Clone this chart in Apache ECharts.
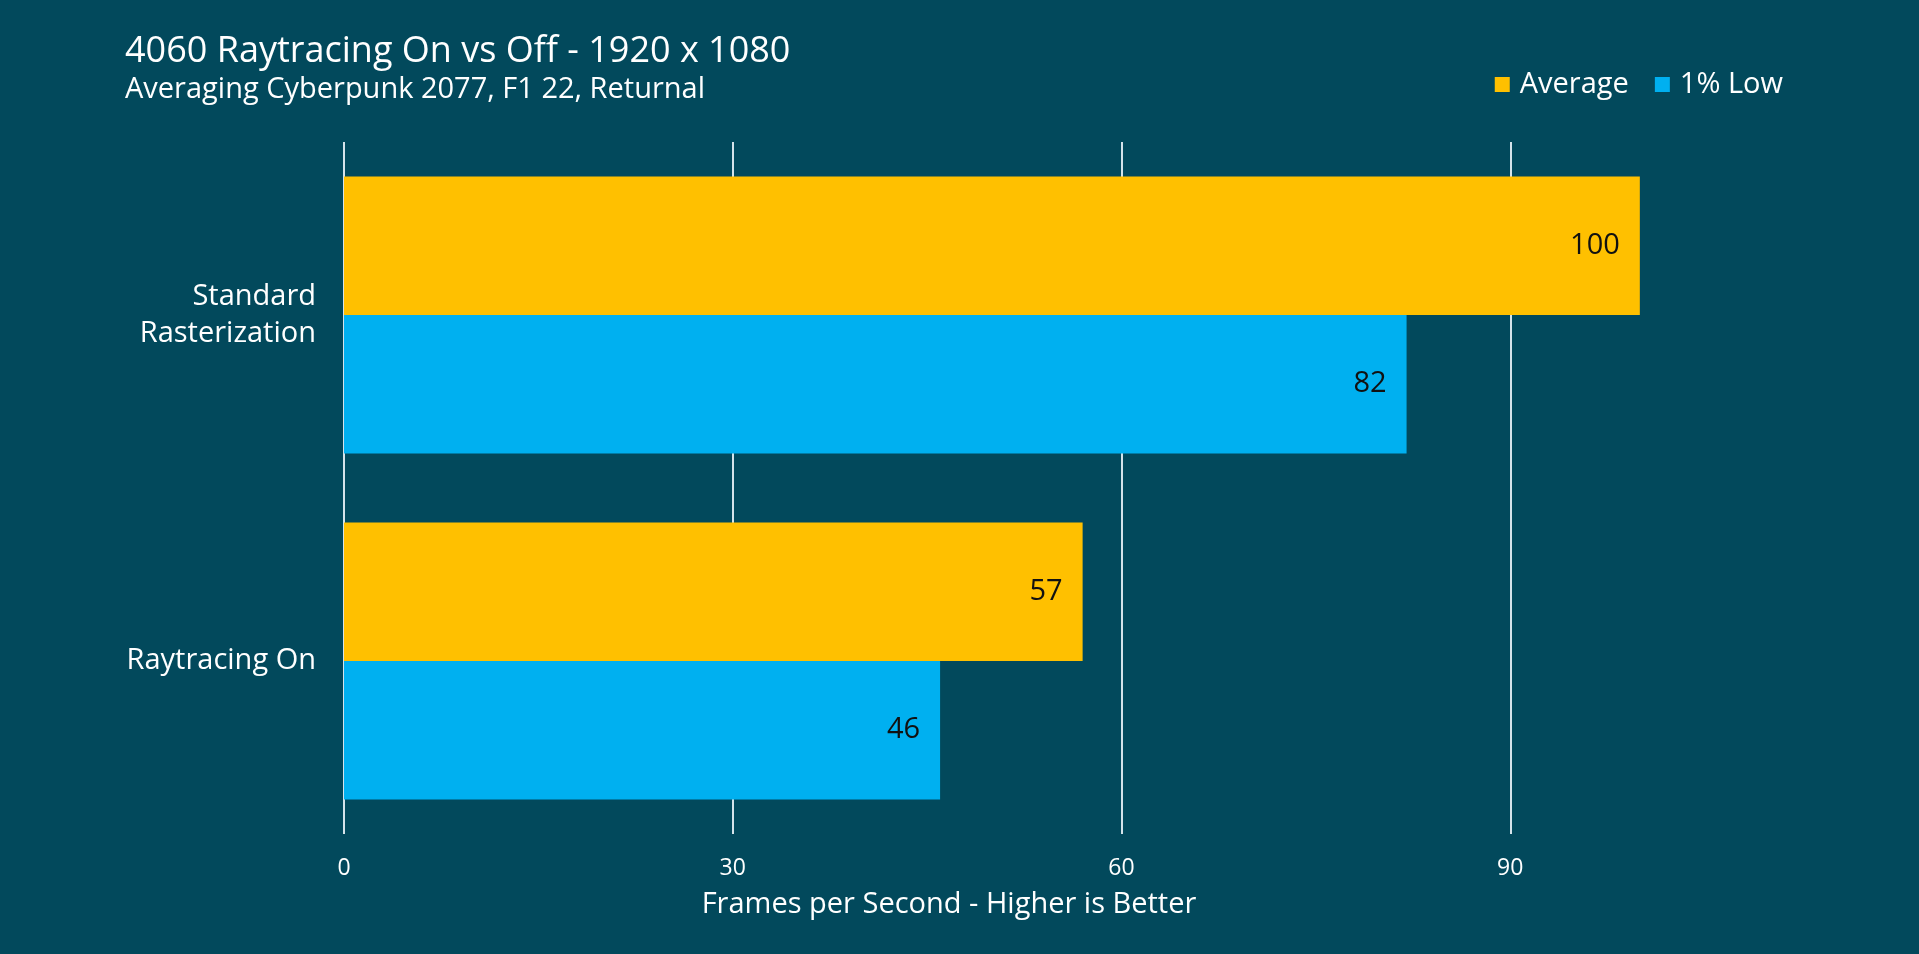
<!DOCTYPE html>
<html>
<head>
<meta charset="utf-8">
<script src="https://cdn.jsdelivr.net/npm/echarts@6/dist/echarts.min.js"></script>
<style>
html,body{margin:0;padding:0;background:#02495c;}
#c{width:1919px;height:954px;}
</style>
</head>
<body>
<div id="c"></div>
<script>
const categories = ['Standard\nRasterization', 'Raytracing On'];
const averageValues = [100, 57];
const lowValues = [82, 46];
const seriesNames = ['Average', '1% Low'];
const xTicks = [0, 30, 60, 90];

const FONT = 'Open Sans';
const chart = echarts.init(document.getElementById('c'), null, {renderer: 'canvas'});
chart.setOption({
  backgroundColor: '#02495c',
  animation: false,
  textStyle: {fontFamily: FONT},
  title: [
    {
      text: '4060 Raytracing On vs Off - 1920 x 1080',
      subtext: 'Averaging Cyberpunk 2077, F1 22, Returnal',
      left: 120, top: 29,
      itemGap: 5,
      textStyle: {color: '#ffffff', fontSize: 36, fontWeight: 'normal', fontFamily: FONT},
      subtextStyle: {color: '#ffffff', fontSize: 29, fontFamily: FONT}
    },
    {
      text: 'Frames per Second - Higher is Better',
      left: 944, top: 885, textAlign: 'center',
      textStyle: {color: '#ffffff', fontSize: 29, fontWeight: 'normal', fontFamily: FONT}
    }
  ],
  legend: {
    right: 131, top: 65,
    itemWidth: 15, itemHeight: 15, itemGap: 26,
    icon: 'rect',
    textStyle: {color: '#ffffff', fontSize: 29, fontFamily: FONT, padding: [0, 0, 0, 5]},
    data: seriesNames
  },
  grid: {left: 344, right: 20, top: 142, bottom: 120, containLabel: false},
  xAxis: {
    type: 'value', min: 0, max: 120, interval: 30,
    axisLine: {show: false},
    axisTick: {show: false},
    axisLabel: {
      color: '#ffffff', fontSize: 23, margin: 23, fontFamily: FONT,
      formatter: v => xTicks.includes(v) ? String(v) : ''
    },
    splitLine: {show: true, showMaxLine: false, lineStyle: {color: '#d5e3ea', width: 2}}
  },
  yAxis: {
    type: 'category', data: categories, inverse: true,
    axisLine: {show: false},
    axisTick: {show: false},
    axisLabel: {color: '#ffffff', fontSize: 29, margin: 28, lineHeight: 37, align: 'right', fontFamily: FONT}
  },
  series: [
    {
      name: seriesNames[0], type: 'bar', data: averageValues,
      barGap: '0%', barCategoryGap: '20%',
      itemStyle: {color: '#ffc000'},
      label: {show: true, position: 'insideRight', distance: 20, color: '#111111', fontSize: 29, fontFamily: FONT}
    },
    {
      name: seriesNames[1], type: 'bar', data: lowValues,
      barGap: '0%', barCategoryGap: '20%',
      itemStyle: {color: '#00b0f0'},
      label: {show: true, position: 'insideRight', distance: 20, color: '#111111', fontSize: 29, fontFamily: FONT}
    }
  ]
});
</script>
</body>
</html>
